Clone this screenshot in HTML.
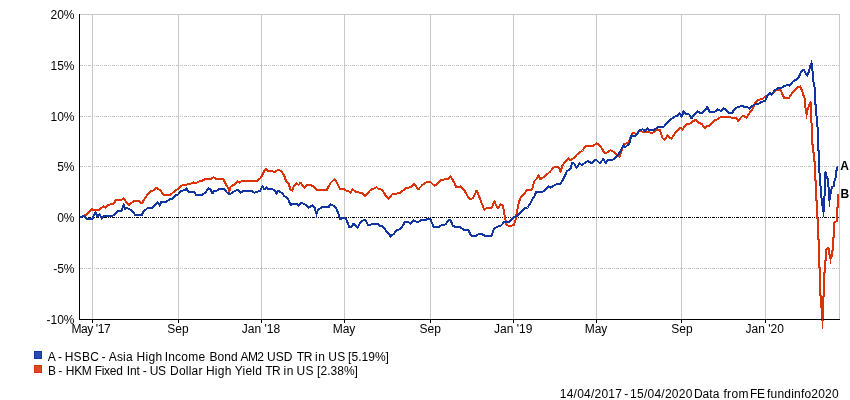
<!DOCTYPE html>
<html><head><meta charset="utf-8"><title>Chart</title>
<style>
html,body{margin:0;padding:0;background:#fff;}
body{width:850px;height:400px;overflow:hidden;font-family:"Liberation Sans",sans-serif;}
svg{display:block;}
text{font-family:"Liberation Sans",sans-serif;font-size:12px;fill:#000;}
text{filter:grayscale(1);}
</style></head><body>
<svg width="850" height="400" viewBox="0 0 850 400">
<rect width="850" height="400" fill="#fff"/>

<g shape-rendering="crispEdges">
<rect x="92" y="14" width="1" height="305" fill="#c8c8c8"/>
<rect x="178" y="14" width="1" height="305" fill="#c8c8c8"/>
<rect x="261" y="14" width="1" height="305" fill="#c8c8c8"/>
<rect x="344" y="14" width="1" height="305" fill="#c8c8c8"/>
<rect x="430" y="14" width="1" height="305" fill="#c8c8c8"/>
<rect x="513" y="14" width="1" height="305" fill="#c8c8c8"/>
<rect x="596" y="14" width="1" height="305" fill="#c8c8c8"/>
<rect x="681" y="14" width="1" height="305" fill="#c8c8c8"/>
<rect x="765" y="14" width="1" height="305" fill="#c8c8c8"/>
<rect x="80" y="14" width="760" height="1" fill="#c8c8c8"/>
<rect x="839" y="14" width="1" height="306" fill="#c8c8c8"/>
<line x1="80" y1="65.5" x2="839" y2="65.5" stroke="#c4c4c4" stroke-width="1" stroke-dasharray="3 1 1 1 1 1"/>
<line x1="80" y1="116.5" x2="839" y2="116.5" stroke="#c4c4c4" stroke-width="1" stroke-dasharray="3 1 1 1 1 1"/>
<line x1="80" y1="166.5" x2="839" y2="166.5" stroke="#c4c4c4" stroke-width="1" stroke-dasharray="3 1 1 1 1 1"/>
<line x1="80" y1="268.5" x2="839" y2="268.5" stroke="#c4c4c4" stroke-width="1" stroke-dasharray="3 1 1 1 1 1"/>
<line x1="80" y1="217.5" x2="839" y2="217.5" stroke="#000" stroke-width="1" stroke-dasharray="3 1 1 1 1 1"/>
</g>
<polyline shape-rendering="crispEdges" fill="none" stroke="#DC3208" stroke-width="2" stroke-linejoin="round" points="79.90,217.25 84.25,215.60 86.10,215.00 91.75,209.40 94.25,209.75 99.25,209.75 103.60,206.25 105.50,207.75 108.60,204.75 113.60,204.00 116.10,199.75 121.75,199.75 123.60,198.10 128.00,204.40 129.25,204.75 133.60,201.25 139.25,201.25 141.75,203.50 147.40,194.40 150.50,191.25 153.00,190.60 156.10,187.75 159.90,190.00 163.60,194.75 170.50,194.75 176.10,190.00 178.00,188.90 180.50,186.25 183.60,184.75 188.60,184.40 193.60,182.50 195.50,183.10 199.90,181.00 202.40,180.60 205.50,179.00 211.10,178.75 213.60,177.25 215.50,178.75 221.10,178.75 223.60,179.40 226.10,185.00 228.00,187.50 229.25,191.90 230.50,186.90 233.60,185.00 237.40,181.50 239.25,182.75 241.75,181.00 257.40,180.60 261.10,177.50 264.25,171.00 266.10,169.00 268.00,171.00 271.10,170.60 274.25,172.25 278.00,169.70 281.10,171.00 284.25,175.60 286.10,181.25 288.60,183.75 290.50,189.40 292.40,190.60 294.00,185.60 296.50,183.10 298.60,185.00 300.50,182.75 304.50,187.75 307.40,185.00 310.50,185.00 314.25,186.90 317.40,190.00 326.75,190.00 330.50,183.10 334.50,179.00 336.75,182.50 339.90,189.00 343.60,189.00 346.10,190.60 348.60,191.25 350.50,192.75 352.40,189.40 356.10,191.90 361.75,193.10 364.90,196.00 370.50,190.00 376.75,187.25 378.00,188.60 382.40,190.00 386.10,196.25 388.60,198.75 392.40,194.00 396.10,193.75 400.50,192.50 405.50,188.50 411.10,186.90 414.25,184.00 418.25,189.40 422.40,185.00 427.40,181.50 429.90,181.50 434.25,185.60 436.75,184.40 441.10,180.00 448.60,178.75 450.50,176.50 454.25,182.50 456.10,186.90 460.50,186.50 464.90,191.25 468.00,196.90 470.50,199.40 473.00,198.10 476.50,190.60 478.00,193.50 481.00,201.50 484.30,209.75 486.25,208.25 491.50,208.25 494.50,201.20 496.75,206.75 498.25,208.25 500.50,204.50 502.75,205.25 505.00,217.25 506.50,224.75 509.50,226.25 514.00,224.75 515.50,220.25 517.30,209.75 518.80,202.25 520.75,197.30 523.00,195.50 526.75,190.25 532.25,189.40 534.20,181.25 536.75,178.70 538.25,175.25 540.50,179.30 545.00,176.00 550.25,171.50 553.25,167.75 557.00,166.70 558.80,167.75 560.75,171.80 562.25,165.50 568.25,158.30 570.50,160.25 574.25,157.70 577.25,154.25 582.50,150.50 585.50,146.00 593.00,146.00 596.75,143.30 599.75,145.25 603.50,151.25 605.75,153.50 610.25,150.20 614.00,152.00 617.50,155.50 619.50,156.50 621.50,151.00 624.00,143.75 628.50,143.30 630.75,137.00 632.25,133.25 634.50,133.25 636.75,134.30 639.00,131.00 643.50,131.75 649.50,132.50 653.25,132.50 657.00,129.80 660.00,130.25 662.25,137.75 664.50,139.70 667.50,135.50 671.25,138.80 675.75,132.20 680.25,127.70 682.50,129.50 686.25,124.25 690.00,123.50 695.25,119.75 699.75,123.20 702.00,124.25 704.70,128.00 706.50,126.50 709.50,125.75 715.50,119.75 717.00,119.50 721.00,116.90 729.75,116.90 731.60,117.75 736.00,117.75 738.50,121.25 740.40,118.10 742.90,115.60 746.60,117.50 749.75,112.75 752.90,108.50 756.00,101.50 759.10,99.75 762.90,98.50 765.40,96.50 767.25,95.25 769.75,93.10 771.60,94.75 775.40,91.00 777.25,89.75 780.40,89.75 784.10,97.75 789.10,97.75 792.75,92.00 797.25,87.50 800.25,86.45 802.50,92.00 804.00,97.00 805.20,100.00 805.30,106.50 806.20,113.00 806.60,114.50 807.40,110.50 808.75,106.25 810.60,102.50 811.20,104.75 811.30,122.75 812.00,124.00 812.00,144.00 812.90,145.00 812.90,152.50 814.00,153.00 814.00,161.00 815.10,162.00 815.10,180.00 816.10,181.00 816.10,200.00 817.00,201.00 817.00,218.50 817.90,219.00 817.90,238.75 818.90,239.50 818.90,267.00 820.00,268.00 820.00,295.00 821.10,296.00 821.10,307.00 821.90,308.00 821.90,320.00 822.90,320.00 822.90,297.00 823.90,296.00 823.90,272.75 824.90,272.00 824.90,261.10 826.00,260.40 826.00,250.25 827.10,248.40 828.60,248.40 829.40,250.25 829.40,254.00 830.30,258.50 831.10,258.50 832.00,254.00 832.00,251.40 833.10,250.25 833.10,238.00 833.90,237.00 833.90,223.40 835.00,221.90 836.90,221.00 837.10,208.00 838.00,207.50 838.00,194.00"/>
<rect shape-rendering="crispEdges" x="806.0" y="113" width="1" height="5.70" fill="#DC3208"/>
<rect shape-rendering="crispEdges" x="830.0" y="257" width="1" height="6.80" fill="#DC3208"/>
<polyline shape-rendering="crispEdges" fill="none" stroke="#1034A0" stroke-width="2" stroke-linejoin="round" points="79.90,217.25 84.25,215.60 86.75,218.75 92.40,218.75 95.50,211.90 97.40,216.90 99.50,214.00 101.75,218.75 103.60,216.00 113.00,215.60 118.00,211.00 121.75,210.60 123.60,204.40 124.90,208.75 127.40,208.10 131.75,210.25 135.50,215.25 141.75,215.00 143.60,211.50 148.00,207.75 151.75,208.50 157.40,202.25 159.90,205.60 161.10,201.50 166.75,201.50 169.90,199.00 172.40,198.75 176.10,195.00 178.00,194.50 181.10,191.25 184.90,190.00 186.50,188.50 188.00,191.50 194.25,191.90 196.10,194.75 202.40,194.75 205.50,192.25 208.60,188.10 210.75,190.00 212.40,193.50 214.25,190.60 216.10,191.25 219.25,189.00 224.25,189.00 226.75,192.25 229.90,194.40 233.00,191.90 237.40,189.75 240.50,192.75 243.00,191.00 251.75,191.00 254.25,192.75 259.90,191.00 262.40,186.25 264.25,189.40 266.50,187.25 268.00,189.00 273.00,189.40 274.90,190.60 276.75,193.75 278.00,190.50 282.40,193.50 284.25,196.25 286.75,197.50 288.60,200.00 290.50,205.25 293.00,203.75 296.75,203.75 298.60,205.60 301.10,202.75 304.90,204.40 308.60,207.50 312.40,205.25 314.90,208.10 316.20,213.50 316.90,213.50 317.75,210.00 322.40,207.10 328.60,207.10 330.50,204.40 334.25,206.25 336.75,209.40 340.50,219.40 341.75,217.75 345.50,217.75 349.25,226.90 351.75,226.90 353.40,223.75 357.40,227.75 360.50,222.50 363.60,220.00 365.50,220.00 368.00,224.75 369.90,225.25 371.75,224.00 378.00,224.20 379.90,226.00 383.00,226.50 386.75,231.90 388.60,233.10 390.50,236.50 394.25,233.50 396.50,230.00 398.60,230.00 402.40,226.25 404.90,221.90 408.00,221.90 410.50,223.50 413.60,220.25 418.00,222.50 421.10,219.75 426.10,219.75 428.00,218.75 430.50,219.40 433.60,226.90 438.60,226.90 441.75,225.00 445.50,224.40 448.60,220.00 450.50,220.00 453.00,226.00 455.50,226.90 459.90,226.90 464.25,230.00 468.00,229.75 471.10,235.60 473.00,236.25 476.10,236.00 478.00,234.50 481.75,234.20 484.75,235.70 491.50,235.70 494.20,228.50 497.50,226.70 501.25,225.50 504.25,221.75 509.50,221.75 514.00,217.25 517.75,215.75 520.75,212.00 524.50,208.25 527.50,207.50 530.50,203.00 532.25,199.25 534.50,196.25 536.30,191.75 542.75,191.75 548.75,186.50 550.25,187.70 556.25,184.25 557.75,183.50 560.75,183.50 564.50,176.75 566.75,171.50 570.50,168.50 572.30,162.50 574.25,163.70 576.50,168.20 579.80,163.25 581.75,165.20 587.75,161.00 591.50,163.25 596.00,159.50 599.75,163.25 603.50,158.75 605.75,163.25 608.00,159.50 613.25,159.50 618.00,155.00 621.00,150.50 623.25,145.25 624.75,147.50 629.25,143.75 631.50,135.50 635.25,136.25 636.75,134.30 639.75,130.25 642.75,129.20 645.00,131.30 647.25,128.30 649.50,130.25 654.00,129.80 657.75,127.25 663.75,126.80 669.75,120.20 674.25,116.75 677.25,116.00 679.50,113.30 681.75,116.75 683.55,111.20 686.25,114.20 689.25,114.50 691.50,118.25 695.25,113.75 697.50,111.20 699.75,112.70 702.75,112.70 707.25,107.00 709.80,111.80 715.50,111.50 717.90,109.40 721.00,111.00 723.50,108.10 726.00,109.75 729.10,113.10 732.25,113.10 733.50,110.25 737.90,106.90 741.00,106.25 747.25,106.90 749.50,108.75 752.25,106.00 756.60,103.75 759.10,103.50 761.60,101.90 765.40,100.60 767.25,95.60 769.75,93.10 771.60,94.75 774.10,91.00 777.25,88.50 781.00,88.10 784.10,86.25 787.90,84.75 789.75,85.70 792.75,81.80 796.00,79.75 799.00,76.75 800.50,73.00 803.50,69.60 807.25,75.60 809.10,71.10 810.25,66.25 811.30,63.50 812.10,63.50 812.65,73.00 813.25,81.25 814.40,86.00 815.10,95.00 815.10,104.00 816.10,105.50 816.10,115.25 817.10,116.75 817.10,126.50 817.90,127.50 817.90,150.00 818.90,151.00 818.90,170.00 819.60,173.25 820.50,185.60 821.60,199.40 823.00,209.00 823.50,212.00 824.30,206.00 824.60,192.50 825.00,178.75 825.50,172.20 826.85,177.40 828.20,180.00 828.80,192.50 829.40,200.50 830.20,196.60 831.00,191.00 832.00,187.00 833.70,186.30 834.30,181.50 835.70,177.40 836.50,170.50 837.60,166.40"/>
<rect shape-rendering="crispEdges" x="823.0" y="210" width="1" height="6.80" fill="#1034A0"/>
<rect shape-rendering="crispEdges" x="829.0" y="199" width="1" height="7.50" fill="#1034A0"/>
<rect shape-rendering="crispEdges" x="811.0" y="59.9" width="1" height="4.10" fill="#1034A0"/>
<rect shape-rendering="crispEdges" x="316.0" y="212" width="1" height="5.60" fill="#1034A0"/>
<g shape-rendering="crispEdges">
<rect x="79" y="14" width="1" height="306" fill="#000"/>
<rect x="79" y="319" width="761" height="1" fill="#000"/>
<rect x="92" y="320" width="1" height="3" fill="#000"/>
<rect x="178" y="320" width="1" height="3" fill="#000"/>
<rect x="261" y="320" width="1" height="3" fill="#000"/>
<rect x="344" y="320" width="1" height="3" fill="#000"/>
<rect x="430" y="320" width="1" height="3" fill="#000"/>
<rect x="513" y="320" width="1" height="3" fill="#000"/>
<rect x="596" y="320" width="1" height="3" fill="#000"/>
<rect x="681" y="320" width="1" height="3" fill="#000"/>
<rect x="765" y="320" width="1" height="3" fill="#000"/>
</g>
<rect shape-rendering="crispEdges" x="822" y="318" width="1" height="11" fill="#DC3208"/>
<text x="74.5" y="18.7" text-anchor="end">20%</text>
<text x="74.5" y="69.7" text-anchor="end">15%</text>
<text x="74.5" y="120.7" text-anchor="end">10%</text>
<text x="74.5" y="170.7" text-anchor="end">5%</text>
<text x="74.5" y="221.7" text-anchor="end">0%</text>
<text x="74.5" y="272.7" text-anchor="end">-5%</text>
<text x="74.5" y="323.7" text-anchor="end">-10%</text>
<text x="90.9" y="332.6" text-anchor="middle" style="letter-spacing:-0.4px">May '17</text>
<text x="178" y="332.6" text-anchor="middle" style="letter-spacing:0px">Sep</text>
<text x="261" y="332.6" text-anchor="middle" style="letter-spacing:0px">Jan '18</text>
<text x="344" y="332.6" text-anchor="middle" style="letter-spacing:0px">May</text>
<text x="430.3" y="332.6" text-anchor="middle" style="letter-spacing:0px">Sep</text>
<text x="513.2" y="332.6" text-anchor="middle" style="letter-spacing:0px">Jan '19</text>
<text x="596" y="332.6" text-anchor="middle" style="letter-spacing:0px">May</text>
<text x="682" y="332.6" text-anchor="middle" style="letter-spacing:0px">Sep</text>
<text x="764.7" y="332.6" text-anchor="middle" style="letter-spacing:0px">Jan '20</text>
<text x="47.76" y="360.8" style="letter-spacing:0.000px">A</text>
<text x="57.92" y="360.8" style="letter-spacing:0.000px">-</text>
<text x="64.68" y="360.8" style="letter-spacing:0.282px">HSBC</text>
<text x="101.55" y="360.8" style="letter-spacing:0.000px">-</text>
<text x="108.68" y="360.8" style="letter-spacing:0.212px">Asia</text>
<text x="136.48" y="360.8" style="letter-spacing:0.318px">High</text>
<text x="164.65" y="360.8" style="letter-spacing:0.238px">Income</text>
<text x="209.48" y="360.8" style="letter-spacing:0.035px">Bond</text>
<text x="240.51" y="360.8" style="letter-spacing:-0.600px">AM2</text>
<text x="267.00" y="360.8" style="letter-spacing:0.012px">USD</text>
<text x="296.77" y="360.8" style="letter-spacing:-0.422px">TR</text>
<text x="315.00" y="360.8" style="letter-spacing:0.600px">in</text>
<text x="328.20" y="360.8" style="letter-spacing:0.333px">US</text>
<text x="348.09" y="360.8" style="letter-spacing:0.023px">[5.19%]</text>
<text x="47.94" y="374.8" style="letter-spacing:0.000px">B</text>
<text x="58.25" y="374.8" style="letter-spacing:0.000px">-</text>
<text x="65.78" y="374.8" style="letter-spacing:-0.291px">HKM</text>
<text x="94.68" y="374.8" style="letter-spacing:-0.287px">Fixed</text>
<text x="126.65" y="374.8" style="letter-spacing:-0.045px">Int</text>
<text x="142.80" y="374.8" style="letter-spacing:0.000px">-</text>
<text x="149.70" y="374.8" style="letter-spacing:-0.267px">US</text>
<text x="170.08" y="374.8" style="letter-spacing:0.212px">Dollar</text>
<text x="205.88" y="374.8" style="letter-spacing:0.318px">High</text>
<text x="234.70" y="374.8" style="letter-spacing:0.263px">Yield</text>
<text x="265.36" y="374.8" style="letter-spacing:-0.600px">TR</text>
<text x="283.45" y="374.8" style="letter-spacing:0.600px">in</text>
<text x="296.40" y="374.8" style="letter-spacing:0.333px">US</text>
<text x="317.09" y="374.8" style="letter-spacing:0.023px">[2.38%]</text>
<text x="559.81" y="398" style="letter-spacing:0.227px">14/04/2017</text>
<text x="624.35" y="398" style="letter-spacing:0.000px">-</text>
<text x="630.11" y="398" style="letter-spacing:0.244px">15/04/2020</text>
<text x="693.88" y="398" style="letter-spacing:0.077px">Data</text>
<text x="723.39" y="398" style="letter-spacing:0.369px">from</text>
<text x="750.08" y="398" style="letter-spacing:-0.463px">FE</text>
<text x="766.99" y="398" style="letter-spacing:0.203px">fundinfo2020</text>
<text x="840.31" y="169.9" style="letter-spacing:0.000px" font-weight="bold">A</text>
<text x="840.62" y="197.9" style="letter-spacing:0.000px" font-weight="bold">B</text>
<rect x="34.5" y="351.5" width="7" height="7" fill="#284AAA" stroke="#1034A0" stroke-width="1" shape-rendering="crispEdges"/>
<rect x="34.5" y="365.5" width="7" height="7" fill="#DF4621" stroke="#DC3208" stroke-width="1" shape-rendering="crispEdges"/>
</svg>
</body></html>
